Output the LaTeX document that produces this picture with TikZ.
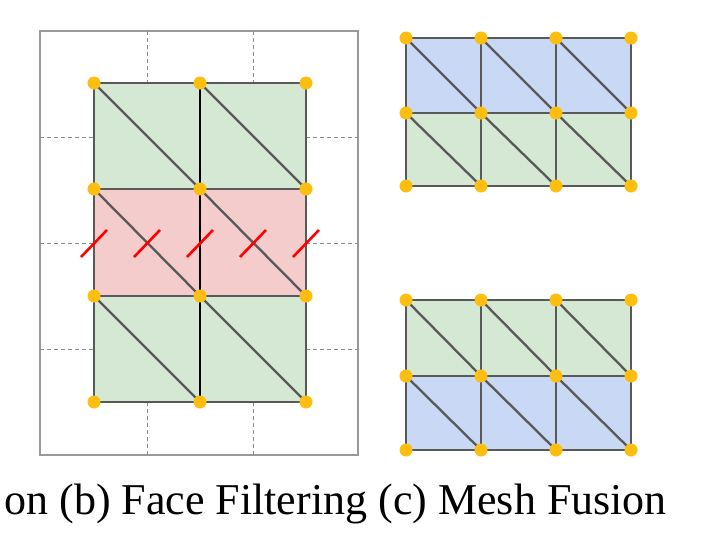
\documentclass[tikz,border=0pt]{standalone}
\usepackage{fontspec}
\setmainfont{Liberation Serif}
\begin{document}
\begin{tikzpicture}[x=1pt,y=-1pt,
  edge/.style={draw=black!65,line width=2.3pt},
  grid/.style={draw=black!45,dash pattern=on 4pt off 3pt,line width=1pt},
  cut/.style={draw=red,line width=2.6pt}]
\useasboundingbox (0,0) rectangle (716,536);
\definecolor{gfill}{HTML}{D5E8D4}
\definecolor{bfill}{HTML}{C9D9F5}
\definecolor{rfill}{HTML}{F4CCCC}
\definecolor{dotc}{HTML}{FDBE0F}
\tikzset{dot/.style={circle,fill=dotc,inner sep=0pt,minimum size=13pt}}
% left panel
\draw[draw=black!40,line width=1.3pt] (40,31) rectangle (358,455);
\foreach \x in {147,253} \draw[grid] (\x,31) -- (\x,455);
\foreach \y in {137,243,349} \draw[grid] (40,\y) -- (358,\y);
\fill[gfill] (94,83) rectangle (306,189);
\fill[rfill] (94,189) rectangle (306,296);
\fill[gfill] (94,296) rectangle (306,402);
\foreach \y/\yy in {83/189,189/296,296/402}{
  \draw[edge] (94,\y) -- (200,\yy);
  \draw[edge] (200,\y) -- (306,\yy);}
\draw[edge] (94,83) rectangle (306,402);
\foreach \y in {189,296} \draw[edge] (94,\y) -- (306,\y);
\draw[edge,draw=black] (200,83) -- (200,402);
\foreach \x in {94,147,200,253,306} \draw[cut] (\x-13,257) -- (\x+13,230);
\foreach \x in {94,200,306} \foreach \y in {83,189,296,402} \node[dot] (l\x-\y) at (\x,\y) {};
% right top
\fill[bfill] (406,38) rectangle (631,113);
\fill[gfill] (406,113) rectangle (631,186);
\foreach \x/\xx in {406/481,481/556,556/631} \foreach \y/\yy in {38/113,113/186} \draw[edge] (\x,\y) -- (\xx,\yy);
\draw[edge] (406,38) rectangle (631,186);
\draw[edge] (406,113) -- (631,113);
\foreach \x in {481,556} \draw[edge] (\x,38) -- (\x,186);
\foreach \x in {406,481,556,631} \foreach \y in {38,113,186} \node[dot] (t\x-\y) at (\x,\y) {};
% right bottom
\fill[gfill] (406,300) rectangle (631,376);
\fill[bfill] (406,376) rectangle (631,450);
\foreach \x/\xx in {406/481,481/556,556/631} \foreach \y/\yy in {300/376,376/450} \draw[edge] (\x,\y) -- (\xx,\yy);
\draw[edge] (406,300) rectangle (631,450);
\draw[edge] (406,376) -- (631,376);
\foreach \x in {481,556} \draw[edge] (\x,300) -- (\x,450);
\foreach \x in {406,481,556,631} \foreach \y in {300,376,450} \node[dot] (b\x-\y) at (\x,\y) {};
\node[anchor=base east,inner sep=0pt,font=\fontsize{44}{48}\selectfont] (cap) at (667,514) {on (b) Face Filtering (c) Mesh Fusion};
\end{tikzpicture}
\end{document}
